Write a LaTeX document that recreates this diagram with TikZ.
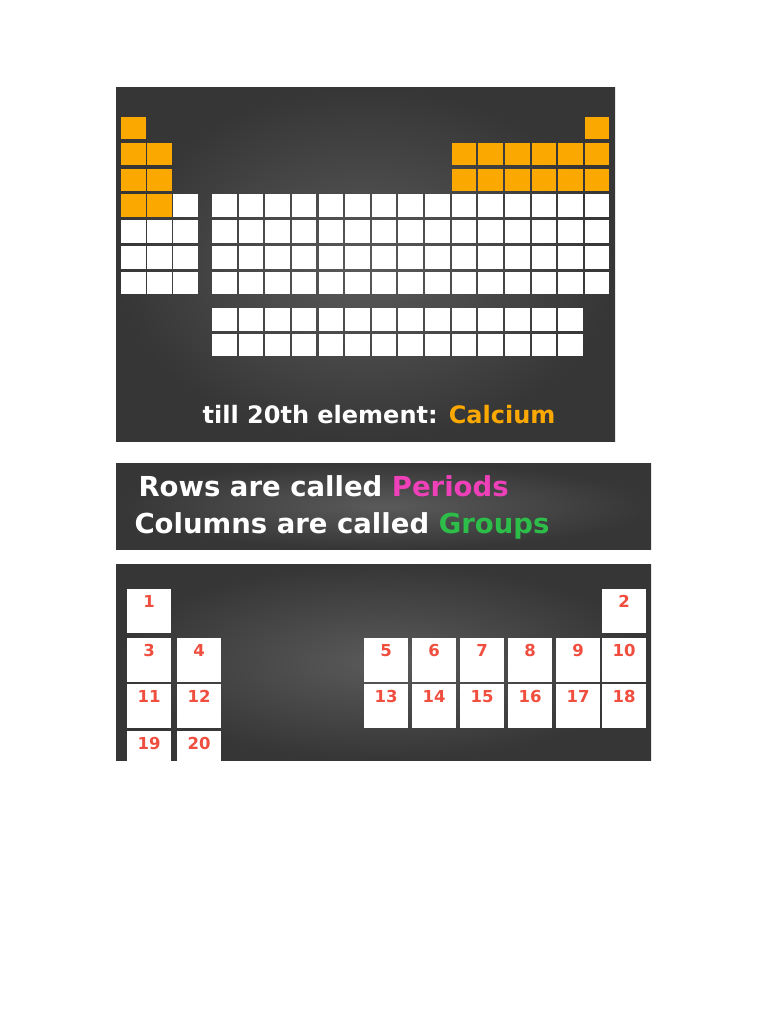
\documentclass[tikz,border=0pt]{standalone}
\usepackage{fontspec}
\setmainfont{DejaVu Sans}
\begin{document}
\begin{tikzpicture}[x=1pt,y=-1pt,
  panel/.style={draw=none,inner color=panelmid,outer color=paneldark},
  wcell/.style={fill=white,draw=none},
  ocell/.style={fill=orangeel,draw=none},
  ncell/.style={fill=white,draw=none,minimum width=44pt,minimum height=44pt,inner sep=0pt},
  num/.style={text=numred,font=\bfseries\fontsize{16.5}{16.5}\selectfont,anchor=north}]
\definecolor{paneldark}{HTML}{363636}
\definecolor{panelmid}{HTML}{5A5A5A}
\definecolor{orangeel}{HTML}{FBA800}
\definecolor{numred}{HTML}{F04E3E}
\definecolor{pink}{HTML}{EE40B8}
\definecolor{grn}{HTML}{2DBE4A}
\useasboundingbox (0,0) rectangle (768,1024);
\fill[white] (0,0) rectangle (768,1024);
% top panel
\path[panel] (116,88) rectangle (615,441);
\def\cs{24.5}
\foreach \r in {1,...,7}{
  \foreach \c in {1,...,18}{
    \pgfmathsetmacro{\xx}{\c==1?121:(\c==2?147.3:(\c==3?173:212+(\c-4)*26.64))}
    \pgfmathsetmacro{\yy}{117+(\r-1)*25.8}
    \pgfmathtruncatemacro{\show}{(\r==1 && (\c==1 || \c==18)) || (\r>=2 && \r<=3 && (\c<=2 || \c>=13)) || (\r>=4)}
    \pgfmathtruncatemacro{\org}{(\c==1 && \r<=4) || (\c==2 && \r>=2 && \r<=4) || (\c>=13 && \r>=2 && \r<=3) || (\c==18 && \r==1)}
    \ifnum\show=1
      \ifnum\org=1
        \fill[ocell] (\xx,\yy) rectangle ++(\cs,22.5);
      \else
        \fill[wcell] (\xx,\yy) rectangle ++(\cs,22.5);
      \fi
    \fi
  }
}
\foreach \r in {0,1}{
  \foreach \c in {0,...,13}{
    \fill[wcell] (212+\c*26.64,308+\r*25.6) rectangle ++(\cs,22.5);
  }
}
\node[font=\bfseries\fontsize{24}{24}\selectfont,text=white] (cap) at (379,415) {till 20th element: \textcolor{orangeel}{Calcium}};
% middle panel
\path[panel] (116,463) rectangle (651,549);
\node[font=\bfseries\fontsize{27.5}{27.5}\selectfont,text=white,anchor=west] (rows) at (135,486) {Rows are called \textcolor{pink}{Periods}};
\node[font=\bfseries\fontsize{27.5}{27.5}\selectfont,text=white,anchor=west] (cols) at (131,526) {Columns are called \textcolor{grn}{Groups}};
% bottom panel
\path[panel] (116,564) rectangle (651,760);
\begin{scope}
\clip (116,564) rectangle (651,760);
\foreach \n/\x/\y in {1/149/611, 3/149/660, 4/199/660, 11/149/706, 12/199/706, 19/149/753, 20/199/753,
  2/624/611, 5/386/660, 6/434/660, 7/482/660, 8/530/660, 9/578/660, 10/624/660,
  13/386/706, 14/434/706, 15/482/706, 16/530/706, 17/578/706, 18/624/706}{
  \node[ncell] (e\n) at (\x,\y) {};
  \node[num] (t\n) at ([yshift=-3pt]e\n.north) {\n};
}
\end{scope}
\end{tikzpicture}
\end{document}
